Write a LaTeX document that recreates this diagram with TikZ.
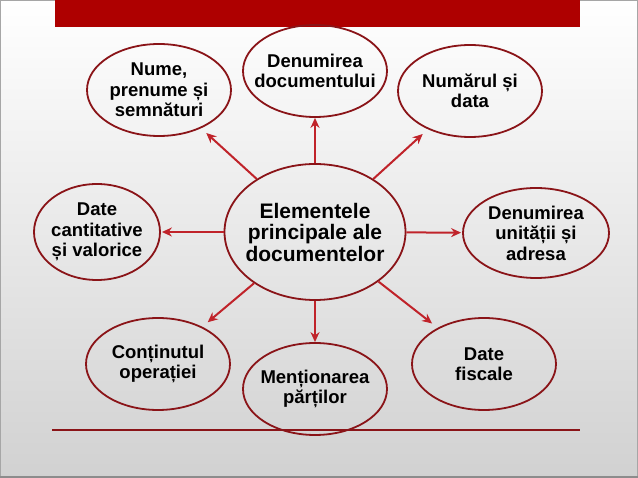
\documentclass[tikz,border=0pt]{standalone}
\usepackage{fontspec}
\setmainfont{Liberation Sans}
\usetikzlibrary{shapes.geometric,arrows.meta}
\definecolor{barred}{HTML}{AE0000}
\definecolor{ellred}{HTML}{8A1418}
\definecolor{arrred}{HTML}{C0232A}
\begin{document}
\begin{tikzpicture}[x=1pt,y=-1pt,
  oval/.style={ellipse,draw=ellred,line width=1.8pt,inner sep=-14pt,
    minimum width=144pt,minimum height=92pt,align=center,
    font=\bfseries\fontsize{18.5}{20.5}\selectfont,text=black},
  arr/.style={draw=arrred,line width=2pt,-{Stealth[length=10pt,width=9pt]}}]
\useasboundingbox (0,0) rectangle (638,478);
\shade[top color=white,bottom color=black!18] (0,0) rectangle (638,478);
\draw[black!35,line width=0.8pt] (0.4,0.4) rectangle (637.6,477.6);
\fill[black!45] (0,476) rectangle (638,478);
\fill[barred] (55,0) rectangle (580,27);
\draw[ellred,line width=1.8pt] (52,430) -- (580,430);
\node[oval] (top) at (315,71) {Denumirea\\documentului};
\node[oval] (nume) at (159,90) {Nume,\\prenume și\\semnături};
\node[oval] (nr) at (470,91) {Numărul și\\data};
\node[oval,minimum width=126pt,minimum height=96pt] (cant) at (97,232) {Date\\cantitative\\și valorice};
\node[oval,minimum width=146pt,minimum height=90pt] (unit) at (536,233) {Denumirea\\unității și\\adresa};
\node[oval] (cont) at (158,364) {Conținutul\\operației};
\node[oval] (ment) at (315,389) {Menționarea\\părților};
\node[oval] (fisc) at (484,364) {Date\\fiscale};
\node[oval,minimum width=181pt,minimum height=136pt,
  font=\bfseries\fontsize{21}{21.5}\selectfont] (c) at (315,232)
  {Elementele\\principale ale\\documentelor};
\draw[arr] (c) -- (top);
\draw[arr,shorten >=7pt] (c) -- (nume);
\draw[arr,shorten >=7pt] (c) -- (nr);
\draw[arr,shorten >=1pt] (c) -- (cant);
\draw[arr,shorten >=1pt] (c) -- (unit);
\draw[arr,shorten >=7pt] (c) -- (cont);
\draw[arr] (c) -- (ment);
\draw[arr,shorten >=7pt] (c) -- (fisc);
\end{tikzpicture}
\end{document}
